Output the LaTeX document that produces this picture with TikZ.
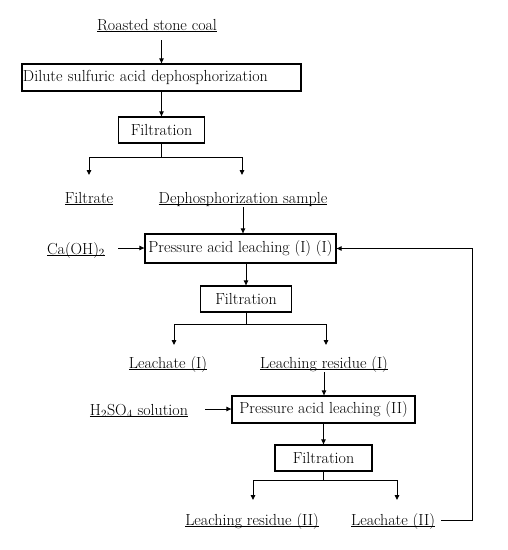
\documentclass[tikz,border=0pt]{standalone}
\usepackage{fontspec}
\usetikzlibrary{arrows.meta}
\newcommand\ulx[1]{\underline{\smash{#1}}\vphantom{Ay}}
\begin{document}
\begin{tikzpicture}[x=1pt,y=-1pt,
  box/.style={draw,line width=1.3pt,inner sep=0pt,font=\fontsize{16}{18}\selectfont},
  lbl/.style={inner sep=1pt,font=\fontsize{16}{18}\selectfont},
  arr/.style={line width=0.9pt,-{Triangle[length=5pt,width=4.5pt]}},
  ln/.style={line width=0.9pt}]
\useasboundingbox (0,0) rectangle (508,550);
\node[lbl] (rsc) at (157,26) {\ulx{Roasted stone coal}};
\node[box,minimum width=279pt,minimum height=27pt,text width=277pt,align=left,inner xsep=1pt] (b1) at (161.5,77.5) {Dilute sulfuric acid dephosphorization};
\node[box,minimum width=86pt,minimum height=26pt] (f1) at (161.5,130) {Filtration};
\node[lbl] (filtrate) at (89,199) {\ulx{Filtrate}};
\node[lbl] (dep) at (243,199) {\ulx{Dephosphorization sample}};
\node[box,minimum width=191pt,minimum height=29pt] (b2) at (240.5,248.5) {Pressure acid leaching (I) (I)};
\node[lbl] (ca) at (76,250) {\ulx{Ca(OH)$_2$}};
\node[box,minimum width=91pt,minimum height=26pt] (f2) at (246,299) {Filtration};
\node[lbl] (leach1) at (168,364) {\ulx{Leachate (I)}};
\node[lbl] (res1) at (324,364) {\ulx{Leaching residue (I)}};
\node[box,minimum width=183pt,minimum height=27pt] (b3) at (323.5,409.5) {Pressure acid leaching (II)};
\node[lbl] (h2so4) at (139,411) {\ulx{H$_2$SO$_4$ solution}};
\node[box,minimum width=97pt,minimum height=26pt] (f3) at (323.5,458) {Filtration};
\node[lbl] (res2) at (252,521) {\ulx{Leaching residue (II)}};
\node[lbl] (leach2) at (393,521) {\ulx{Leachate (II)}};
% coordinates
\coordinate (s0) at (161.5,40);
\coordinate (j1) at (161.5,157);
\coordinate (t1l) at (89,175);
\coordinate (t1r) at (242,175);
\coordinate (j2) at (246,324);
\coordinate (t2l) at (174,345);
\coordinate (t2r) at (326,345);
\coordinate (j3) at (323.5,480);
\coordinate (t3l) at (253,500);
\coordinate (t3r) at (397,500);
\coordinate (sca) at (118,248);
\coordinate (sh) at (205,409);
\coordinate (sl2) at (441,520);
\coordinate (fbr) at (472,520);
% connectors
\draw[arr] (s0) -- (b1.north);
\draw[arr] (b1.south) -- (f1.north);
\draw[ln] (f1.south) -- (j1);
\draw[arr] (j1) -| (t1l);
\draw[arr] (j1) -| (t1r);
\draw[arr] (dep.south) -- (dep.south |- b2.north);
\draw[arr] (sca) -- (sca -| b2.west);
\draw[arr] (f2.north |- b2.south) -- (f2.north);
\draw[ln] (f2.south) -- (j2);
\draw[arr] (j2) -| (t2l);
\draw[arr] (j2) -| (t2r);
\draw[arr] (res1.south) -- (res1.south |- b3.north);
\draw[arr] (sh) -- (sh -| b3.west);
\draw[arr] (b3.south) -- (f3.north);
\draw[ln] (f3.south) -- (j3);
\draw[arr] (j3) -| (t3l);
\draw[arr] (j3) -| (t3r);
\draw[arr] (sl2) -- (fbr) |- (b2.east);
\end{tikzpicture}
\end{document}
